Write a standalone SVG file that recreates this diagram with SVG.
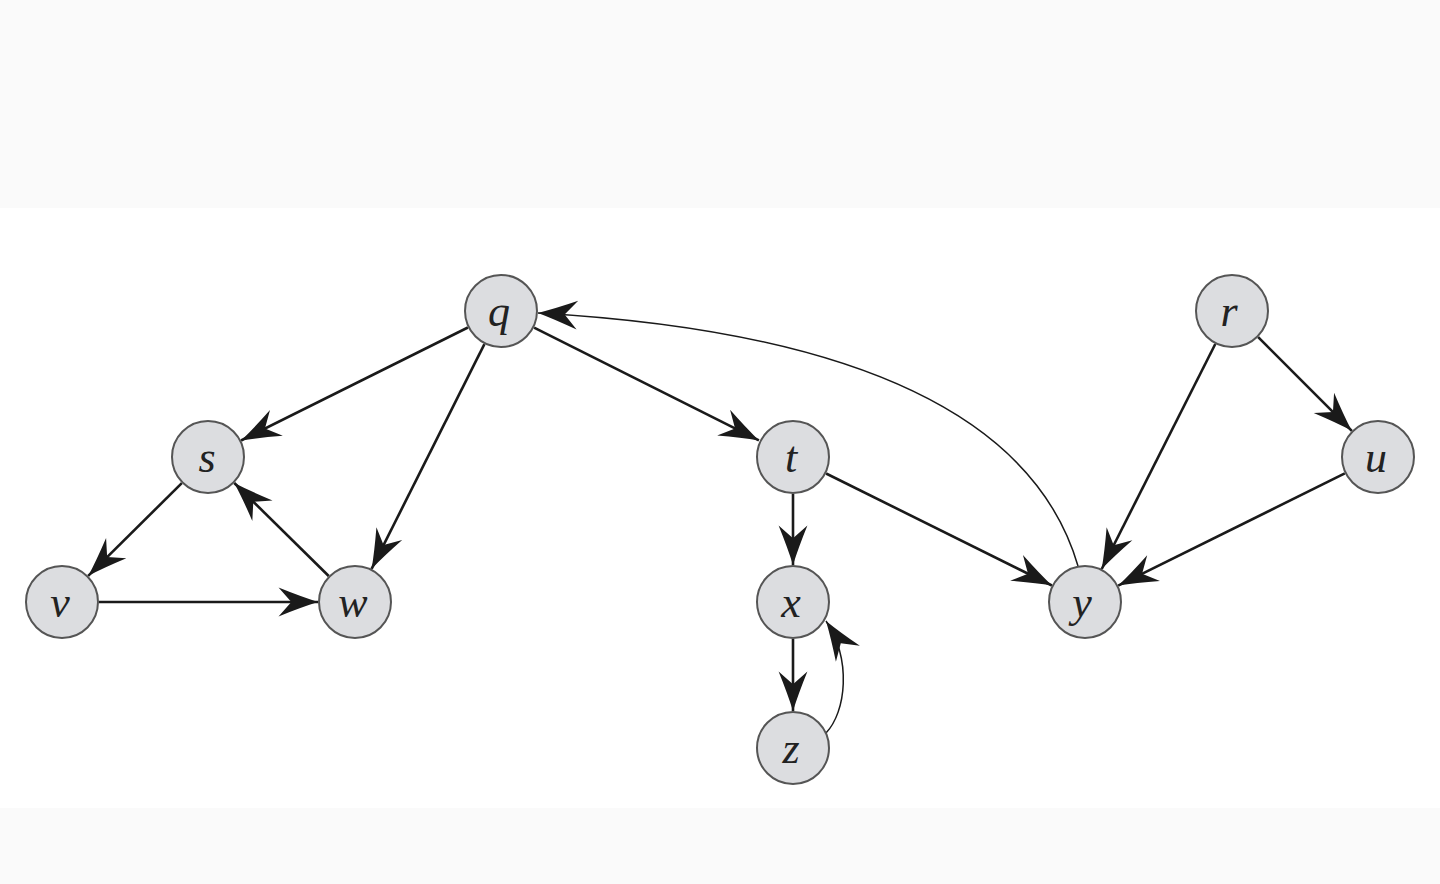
<svg xmlns="http://www.w3.org/2000/svg" width="1440" height="884" viewBox="0 0 1440 884">
<defs>
<marker id="ah" markerUnits="userSpaceOnUse" markerWidth="44" markerHeight="32" viewBox="-38 -15 40 30" refX="0" refY="0" orient="auto">
<path d="M0,0 Q-16,-5 -37,-13.5 L-25,0 L-37,13.5 Q-16,5 0,0 Z" fill="#1a1a1a"/>
</marker>
</defs>
<style>
.e{stroke:#1a1a1a;stroke-width:2.6;fill:none;marker-end:url(#ah)}
.c{stroke:#1a1a1a;stroke-width:1.5;fill:none;marker-end:url(#ah)}
.n circle{fill:#dcdde0;stroke:#555;stroke-width:2}
.n text{font-family:"Liberation Serif","DejaVu Serif",serif;font-style:italic;font-size:44px;fill:#222;text-anchor:middle}
</style>
<rect width="1440" height="884" fill="#fafafa"/>
<rect x="0" y="208" width="1440" height="600" fill="#ffffff"/>
<g id="connectors">
<line class="e" x1="467.9" y1="327.5" x2="241.1" y2="440.5"/>
<line class="e" x1="484.4" y1="344.1" x2="371.6" y2="568.9"/>
<line class="e" x1="534.1" y1="327.6" x2="758.9" y2="440.4"/>
<line class="e" x1="181.8" y1="483.1" x2="88.2" y2="575.9"/>
<line class="e" x1="99" y1="602" x2="318" y2="602"/>
<line class="e" x1="328.7" y1="576" x2="234.3" y2="483"/>
<line class="e" x1="793" y1="494" x2="793" y2="565"/>
<line class="e" x1="826.1" y1="473.5" x2="1051.9" y2="585.5"/>
<line class="e" x1="793" y1="639" x2="793" y2="711"/>
<line class="e" x1="1215.3" y1="344" x2="1101.7" y2="569"/>
<line class="e" x1="1258.2" y1="337.2" x2="1351.8" y2="430.8"/>
<line class="e" x1="1344.8" y1="473.4" x2="1118.2" y2="585.6"/>
<path class="c" d="M1078,566 Q1012,340 538,313"/>
<path class="c" d="M826,733 C846,712 852,660 826,621"/>
</g>
<g id="q" class="n"><circle cx="501" cy="311" r="36"/><text x="499" y="326">q</text></g>
<g id="s" class="n"><circle cx="208" cy="457" r="36"/><text x="207" y="472">s</text></g>
<g id="t" class="n"><circle cx="793" cy="457" r="36"/><text x="791" y="472">t</text></g>
<g id="r" class="n"><circle cx="1232" cy="311" r="36"/><text x="1229" y="326">r</text></g>
<g id="u" class="n"><circle cx="1378" cy="457" r="36"/><text x="1376" y="472">u</text></g>
<g id="v" class="n"><circle cx="62" cy="602" r="36"/><text x="60" y="617">v</text></g>
<g id="w" class="n"><circle cx="355" cy="602" r="36"/><text x="353" y="617">w</text></g>
<g id="x" class="n"><circle cx="793" cy="602" r="36"/><text x="791" y="617">x</text></g>
<g id="y" class="n"><circle cx="1085" cy="602" r="36"/><text x="1082" y="617">y</text></g>
<g id="z" class="n"><circle cx="793" cy="748" r="36"/><text x="791" y="763">z</text></g>
</svg>
